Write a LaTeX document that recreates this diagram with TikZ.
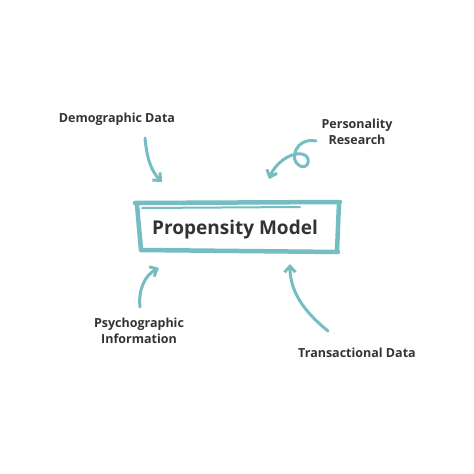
\documentclass[tikz,border=0pt]{standalone}
\usepackage{fontspec}
\setmainfont{Open Sans}
\usetikzlibrary{arrows.meta}
\definecolor{teal1}{RGB}{118,189,195}
\definecolor{ink}{RGB}{51,51,51}
\tikzset{
  lbl/.style={font=\bfseries\fontsize{12.5}{16.5}\selectfont, text=ink, align=center, inner sep=0pt},
  title/.style={font=\bfseries\fontsize{19}{24}\selectfont, text=ink, inner sep=0pt},
  sketch/.style={draw=teal1, line width=4.5pt, line cap=round, line join=round},
  thin sketch/.style={draw=teal1, line width=2pt, line cap=round},
  arr/.style={draw=teal1, line width=3pt, line cap=round, line join=round, -{Straight Barb[length=6pt,width=11pt,line width=3pt]}}
}
\begin{document}
\begin{tikzpicture}[x=1pt,y=-1pt]
\useasboundingbox[fill=white] (0,0) rectangle (474,474);
% box
\draw[sketch] (135,203) -- (340,202);
\draw[thin sketch] (142,208) -- (300,207);
\draw[sketch] (137,205) -- (141,250) -- (338,252);
\draw[sketch] (339,203) -- (337,251);
\node[title] (pm) at (235,230) {Propensity Model};
% labels
\node[lbl] (demo) at (117,119) {Demographic Data};
\node[lbl] (pers) at (357,132) {Personality\\Research};
\node[lbl] (psy) at (139,331) {Psychographic\\Information};
\node[lbl] (trans) at (357,353) {Transactional Data};
% arrow targets
\coordinate (tdemo) at (162,182);
\coordinate (tpers) at (269,179);
\coordinate (tpsy) at (159,268);
\coordinate (ttrans) at (290,264);
\coordinate (sdemo) at (145,138);
\coordinate (spers) at (316,141);
\coordinate (spsy) at (140,307);
\coordinate (strans) at (328,331);
\draw[arr] (sdemo) .. controls (147,160) and (152,172) .. (tdemo);
\draw[arr] (spers) .. controls (296,137) and (288,160) .. (300,166)
  .. controls (309,170) and (312,156) .. (302,154)
  .. controls (288,152) and (274,166) .. (tpers);
\draw[arr] (spsy) .. controls (138,290) and (145,275) .. (tpsy);
\draw[arr] (strans) .. controls (302,310) and (290,290) .. (ttrans);
\end{tikzpicture}
\end{document}
